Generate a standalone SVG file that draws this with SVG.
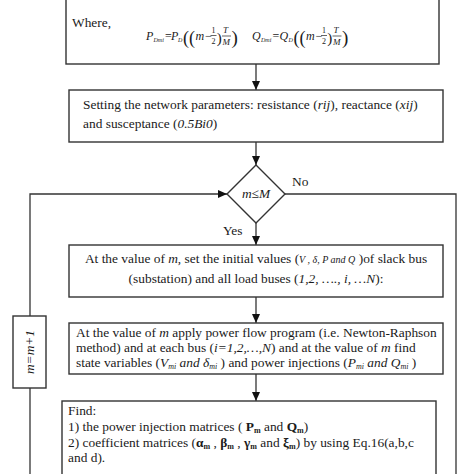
<svg xmlns="http://www.w3.org/2000/svg" width="474" height="474" viewBox="0 0 474 474" font-family="'Liberation Serif', 'Times New Roman', serif">
<defs>
<style>
.box{fill:#fff;stroke:#333;stroke-width:1.4}
.ln{fill:none;stroke:#333;stroke-width:1.3}
text{font-family:'Liberation Serif','Times New Roman',serif;font-size:13.4px;fill:#1a1a1a}
.i{font-style:italic}
.s{font-size:8px}
.b{font-weight:bold}
.fr{stroke:#222;stroke-width:0.7}
</style>
<marker id="ar" markerWidth="10" markerHeight="10" refX="9" refY="4" orient="auto" markerUnits="userSpaceOnUse">
<path d="M0,0 L9,4 L0,8 Z" fill="#111"/>
</marker>
</defs>
<rect width="474" height="474" fill="#fff"/>

<g id="connectors">
<line class="ln" x1="256" y1="64" x2="256" y2="90" marker-end="url(#ar)"/>
<line class="ln" x1="256" y1="142" x2="256" y2="165" marker-end="url(#ar)"/>
<line class="ln" x1="256" y1="223" x2="256" y2="245" marker-end="url(#ar)"/>
<line class="ln" x1="256" y1="297" x2="256" y2="323" marker-end="url(#ar)"/>
<line class="ln" x1="256" y1="374" x2="256" y2="401" marker-end="url(#ar)"/>
<polyline class="ln" points="285,194 456,194 456,474"/>
<line class="ln" x1="30" y1="474" x2="30" y2="388"/>
<polyline class="ln" points="30,316 30,194 227,194" marker-end="url(#ar)"/>
<text x="292" y="186">No</text>
<text x="223" y="235">Yes</text>
</g>

<g id="node-where">
<rect class="box" x="66" y="-10" width="373" height="74"/>
<text x="72" y="27">Where,</text>
<text x="146" y="40" class="i" style="font-size:12px">P</text>
<text x="153.5" y="42" class="i" style="font-size:6px">Dmi</text>
<text x="165" y="40" style="font-size:12px">=</text>
<text x="171" y="40" class="i" style="font-size:12px">P</text>
<text x="178" y="42" class="i" style="font-size:6px">D</text>
<text x="183" y="44" style="font-size:18px">((</text>
<text x="195.5" y="40" class="i" style="font-size:12px">m−</text>
<text x="211.5" y="33" style="font-size:8px">1</text>
<line class="fr" x1="210.5" y1="35.5" x2="216.5" y2="35.5"/>
<text x="211.5" y="44" style="font-size:8px">2</text>
<text x="216.8" y="43" style="font-size:15px">)</text>
<text x="223" y="33" class="i" style="font-size:9px">T</text>
<line class="fr" x1="222" y1="36" x2="231" y2="36"/>
<text x="222.5" y="45" class="i" style="font-size:9px">M</text>
<text x="231.5" y="44" style="font-size:19px">)</text>

<text x="252" y="40" class="i" style="font-size:12px">Q</text>
<text x="261" y="42" class="i" style="font-size:6px">Dmi</text>
<text x="272.5" y="40" style="font-size:12px">=</text>
<text x="279.5" y="40" class="i" style="font-size:12px">Q</text>
<text x="288.5" y="42" class="i" style="font-size:6px">D</text>
<text x="293.5" y="44" style="font-size:18px">((</text>
<text x="306" y="40" class="i" style="font-size:12px">m−</text>
<text x="322" y="33" style="font-size:8px">1</text>
<line class="fr" x1="321" y1="35.5" x2="327" y2="35.5"/>
<text x="322" y="44" style="font-size:8px">2</text>
<text x="327.3" y="43" style="font-size:15px">)</text>
<text x="333.5" y="33" class="i" style="font-size:9px">T</text>
<line class="fr" x1="332.5" y1="36" x2="341.5" y2="36"/>
<text x="333" y="45" class="i" style="font-size:9px">M</text>
<text x="342" y="44" style="font-size:19px">)</text>
</g>

<g id="node-network">
<rect class="box" x="69" y="90" width="374" height="52"/>
<text x="83" y="109">Setting the network parameters: resistance (<tspan class="i">rij</tspan>), reactance (<tspan class="i">xij</tspan>)</text>
<text x="83" y="128">and  susceptance (<tspan class="i">0.5Bi0</tspan>)</text>
</g>

<g id="node-decision">
<polygon class="box" points="256,165 285,194 256,223 227,194"/>
<text x="256" y="198" text-anchor="middle" class="i">m≤M</text>
</g>

<g id="node-init">
<rect class="box" x="69" y="245" width="374" height="52"/>
<text x="256" y="263" text-anchor="middle">At the value of <tspan class="i">m</tspan>, set the initial values (<tspan class="i" style="font-size:10px">V , δ, P and Q</tspan> )of slack bus</text>
<text x="256" y="283" text-anchor="middle">(substation) and all load buses (<tspan class="i">1,2, …., i, …N</tspan>):</text>
</g>

<g id="node-powerflow">
<rect class="box" x="69" y="323" width="374" height="51"/>
<text x="76" y="337">At the value of <tspan class="i">m</tspan> apply power flow program (i.e. Newton-Raphson</text>
<text x="76" y="352">method)  and at each bus (<tspan class="i">i=1,2,…,N</tspan>) and at the value of <tspan class="i">m</tspan> find</text>
<text x="76" y="367">state variables (<tspan class="i">V<tspan class="s" dy="2">mi</tspan><tspan dy="-2"> and δ</tspan><tspan class="s" dy="2">mi</tspan></tspan><tspan dy="-2"> ) and power injections (</tspan><tspan class="i">P<tspan class="s" dy="2">mi</tspan><tspan dy="-2">  and Q</tspan><tspan class="s" dy="2">mi</tspan></tspan><tspan dy="-2"> )</tspan></text>
</g>

<g id="node-increment">
<rect class="box" x="13" y="316" width="33" height="72"/>
<text x="0" y="0" transform="translate(34,352) rotate(-90)" text-anchor="middle" class="i">m=m+1</text>
</g>

<g id="node-find">
<rect class="box" x="62" y="401" width="374" height="90"/>
<text x="68" y="415">Find:</text>
<text x="68" y="431"> 1) the power injection matrices ( <tspan class="b">P<tspan class="s" dy="2">m</tspan></tspan><tspan dy="-2"> and </tspan><tspan class="b">Q<tspan class="s" dy="2">m</tspan></tspan><tspan dy="-2">)</tspan></text>
<text x="68" y="447"> 2) coefficient matrices (<tspan class="b">α<tspan class="s" dy="2">m</tspan></tspan><tspan dy="-2"> , </tspan><tspan class="b">β<tspan class="s" dy="2">m</tspan></tspan><tspan dy="-2"> , </tspan><tspan class="b">γ<tspan class="s" dy="2">m</tspan></tspan><tspan dy="-2"> and </tspan><tspan class="b">ξ<tspan class="s" dy="2">m</tspan></tspan><tspan dy="-2">) by using Eq.16(a,b,c</tspan></text>
<text x="68" y="462">and d).</text>
</g>
</svg>
